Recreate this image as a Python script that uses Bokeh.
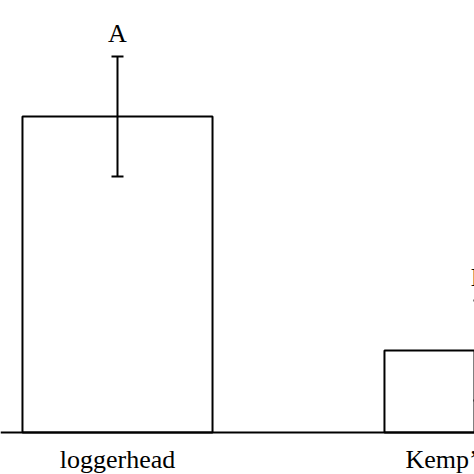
from bokeh.plotting import figure
from bokeh.models import Range1d, Whisker, ColumnDataSource, TeeHead, Span
from bokeh.embed import file_html
from bokeh.resources import INLINE
from bokeh.core.properties import value

species = ["loggerhead", "Kemp\u2019s ridley"]
means = [3.16, 0.82]
errors = [0.60, 0.50]
letters = ["A", "B"]

xpos = list(range(len(species)))
upper = [m + e for m, e in zip(means, errors)]
lower = [m - e for m, e in zip(means, errors)]
letter_y = [u + 0.23 for u in upper]
name_y = [-0.27 for _ in species]

src = ColumnDataSource(dict(x=xpos, top=means, upper=upper, lower=lower,
                            ly=letter_y, letter=letters, name=species,
                            ny=name_y))

p = figure(width=474, height=474, output_backend="svg", toolbar_location=None,
           x_range=Range1d(-0.3232, 0.9862), y_range=Range1d(-0.42, 4.32),
           x_axis_location=None, y_axis_location=None, min_border=0)

p.vbar(x="x", top="top", bottom=0, width=0.525, source=src,
       fill_color="white", line_color="black", line_width=2)

# baseline (category axis line)
p.add_layout(Span(location=0, dimension="width", line_color="black",
                  line_width=2))

w = Whisker(base="x", upper="upper", lower="lower", source=src,
            line_width=2, line_color="black", level="overlay",
            upper_head=TeeHead(size=12, line_width=2, line_color="black"),
            lower_head=TeeHead(size=12, line_width=2, line_color="black"))
p.add_layout(w)

# significance letters
p.text(x="x", y="ly", text="letter", source=src, text_align="center",
       text_baseline="alphabetic", text_font=value("Liberation Serif"),
       text_font_size="26px", text_color="black")

# category labels below the baseline
p.text(x="x", y="ny", text="name", source=src, text_align="center",
       text_baseline="alphabetic", text_font=value("Liberation Serif"),
       text_font_size="26px", text_color="black")

p.grid.visible = False
p.outline_line_color = None

open("out.html", "w").write(file_html(p, INLINE))
